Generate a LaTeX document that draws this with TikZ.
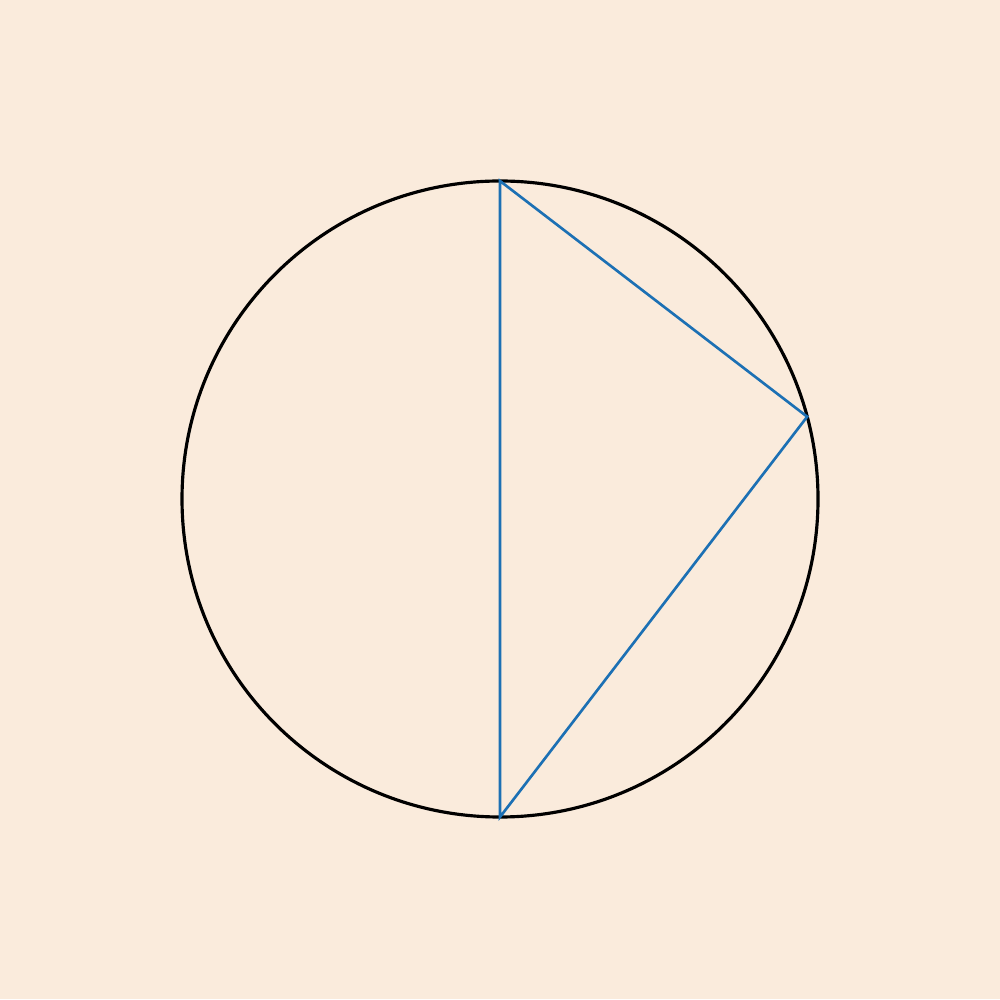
\documentclass[tikz,border=0pt]{standalone}
\usetikzlibrary{calc}
\definecolor{paper}{RGB}{250,235,220}
\definecolor{chord}{RGB}{28,112,180}
\begin{document}
\begin{tikzpicture}
      \path[use as bounding box, fill=paper] (0, 0) rectangle (10, 9.99);
      \coordinate (o) at (5, 5.0);
      \coordinate (top) at (5, 8.18);
      \coordinate (bot) at (5, 1.82);
      \coordinate (rt) at ($(o) + (15:3.18)$);
      \path[draw, line width=0.9pt] (o) circle (3.18);
      \path[draw=chord, line width=0.75pt, line join=miter] (top) -- (bot) -- (rt) -- cycle;
    \end{tikzpicture}
\end{document}
